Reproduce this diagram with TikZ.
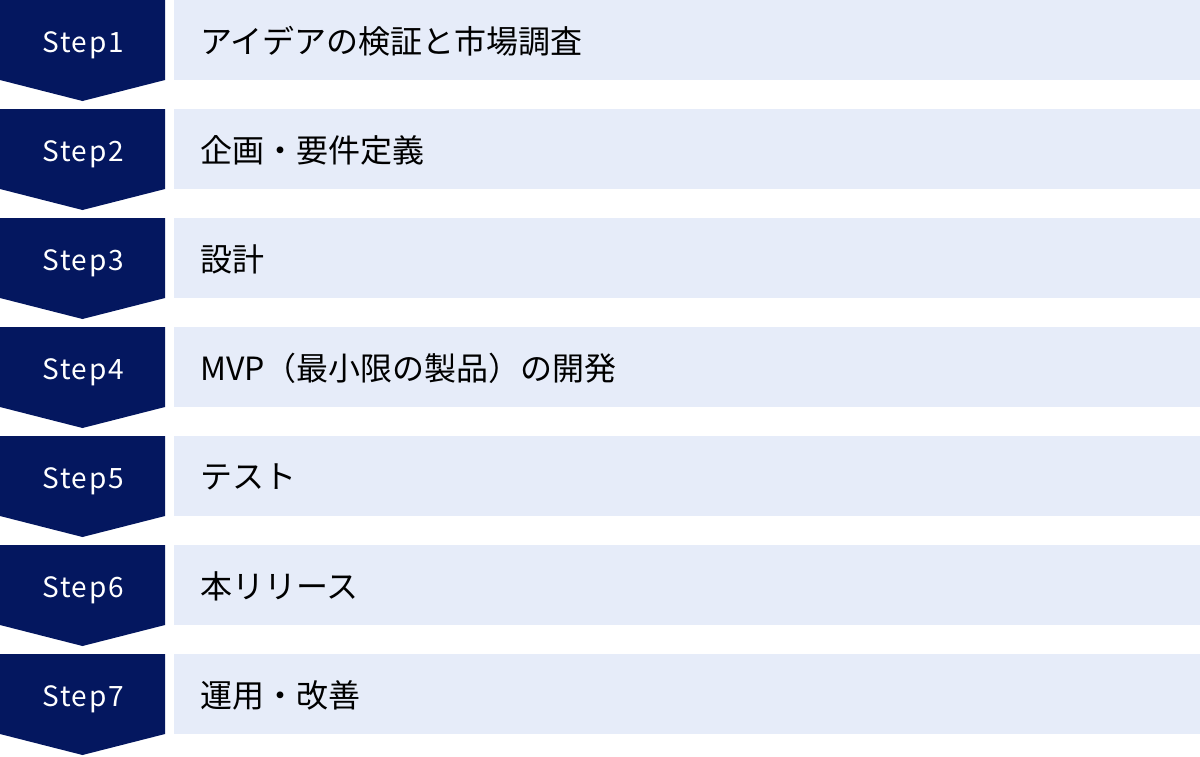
\documentclass[tikz,border=0pt]{standalone}
\usepackage{fontspec}
\newfontfamily\jpfont{Noto Sans CJK JP}
\newfontfamily\stepfont[LetterSpace=6]{Noto Sans CJK JP}
\definecolor{navy}{HTML}{04175F}
\definecolor{pale}{HTML}{E6ECF9}
\tikzset{
  steplabel/.style={text=white, font=\stepfont\fontsize{28}{32}\selectfont, inner sep=0pt},
  tasklabel/.style={text=black, font=\jpfont\fontsize{32}{38}\selectfont, inner sep=0pt, anchor=west},
  chevron/.style={fill=navy},
  band/.style={fill=pale}
}
\begin{document}
\begin{tikzpicture}[x=1pt,y=-1pt]
\useasboundingbox (0,0) rectangle (1200,756);
\foreach \i/\t in {1/アイデアの検証と市場調査, 2/企画・要件定義, 3/設計, 4/MVP（最小限の製品）の開発, 5/テスト, 6/本リリース, 7/運用・改善} {
  \pgfmathsetmacro\y{(\i-1)*109}
  \fill[chevron] (0,\y) -- (165,\y) -- (165,\y+80) -- (82.5,\y+101) -- (0,\y+80) -- cycle;
  \fill[band] (174,\y) rectangle (1200,\y+80);
  \node[steplabel] (s\i) at (83,\y+45) {Step\i};
  \node[tasklabel] (t\i) at (200,\y+41) {\t};
}
\end{tikzpicture}
\end{document}
